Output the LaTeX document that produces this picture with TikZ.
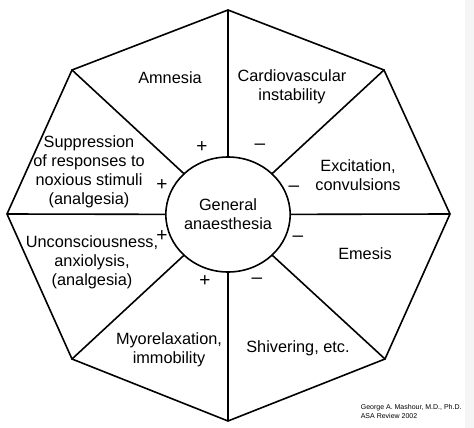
\documentclass[tikz,border=0pt]{standalone}
\usepackage{fontspec}
\setmainfont{Liberation Sans}
\usetikzlibrary{shapes.geometric}

\begin{document}
\begin{tikzpicture}[x=1pt,y=-1pt,line width=1.6pt,line join=round,line cap=round,
  lbl/.style={align=center,inner sep=0pt,font=\fontsize{16.3}{19}\selectfont},
  sgn/.style={inner sep=0pt,font=\fontsize{19}{19}\selectfont},
  credit/.style={align=left,anchor=west,inner sep=0pt,font=\fontsize{7}{9}\selectfont}]
\useasboundingbox (0,0) rectangle (474,428);
\fill[white] (0,0) rectangle (474,428);
\fill[gray!8] (465,0) rectangle (474,428);
\coordinate (t) at (228,10);
\coordinate (ur) at (384,70);
\coordinate (r) at (450,214);
\coordinate (lr) at (385,359);
\coordinate (b) at (228,421);
\coordinate (ll) at (72,359);
\coordinate (l) at (7,214);
\coordinate (ul) at (72,70);
\draw (t) -- (ur) -- (r) -- (lr) -- (b) -- (ll) -- (l) -- (ul) -- cycle;
\node[ellipse,draw,fill=white,minimum width=122,minimum height=115,lbl] (ga) at (228,214.5) {General\\anaesthesia};
\draw (ga) -- (t);
\draw (ga) -- (ur);
\draw (ga) -- (r);
\draw (ga) -- (lr);
\draw (ga) -- (b);
\draw (ga) -- (ll);
\draw (ga) -- (l);
\draw (ga) -- (ul);
\node[lbl] (amn) at (170,78) {Amnesia};
\node[lbl] (cardio) at (292,87) {Cardiovascular\\instability};
\node[lbl] (supp) at (89,172) {Suppression\\of responses to\\noxious stimuli\\(analgesia)};
\node[lbl] (excit) at (358,175) {Excitation,\\convulsions};
\node[lbl] (uncon) at (92,262) {Unconsciousness,\\anxiolysis,\\(analgesia)};
\node[lbl] (emesis) at (365,254) {Emesis};
\node[lbl] (myo) at (169,350) {Myorelaxation,\\immobility};
\node[lbl] (shiv) at (298,348) {Shivering, etc.};
\node[sgn] (p1) at (202,147) {+};
\node[sgn] (m1) at (260,147) {–};
\node[sgn] (p2) at (162,185) {+};
\node[sgn] (m2) at (294,189) {–};
\node[sgn] (p3) at (162,236) {+};
\node[sgn] (m3) at (298,239) {–};
\node[sgn] (p4) at (205,281) {+};
\node[sgn] (m4) at (257,281) {–};
\node[credit] (cred) at (360,411.5) {George A. Mashour, M.D., Ph.D.\\ASA Review 2002};
\end{tikzpicture}
\end{document}
